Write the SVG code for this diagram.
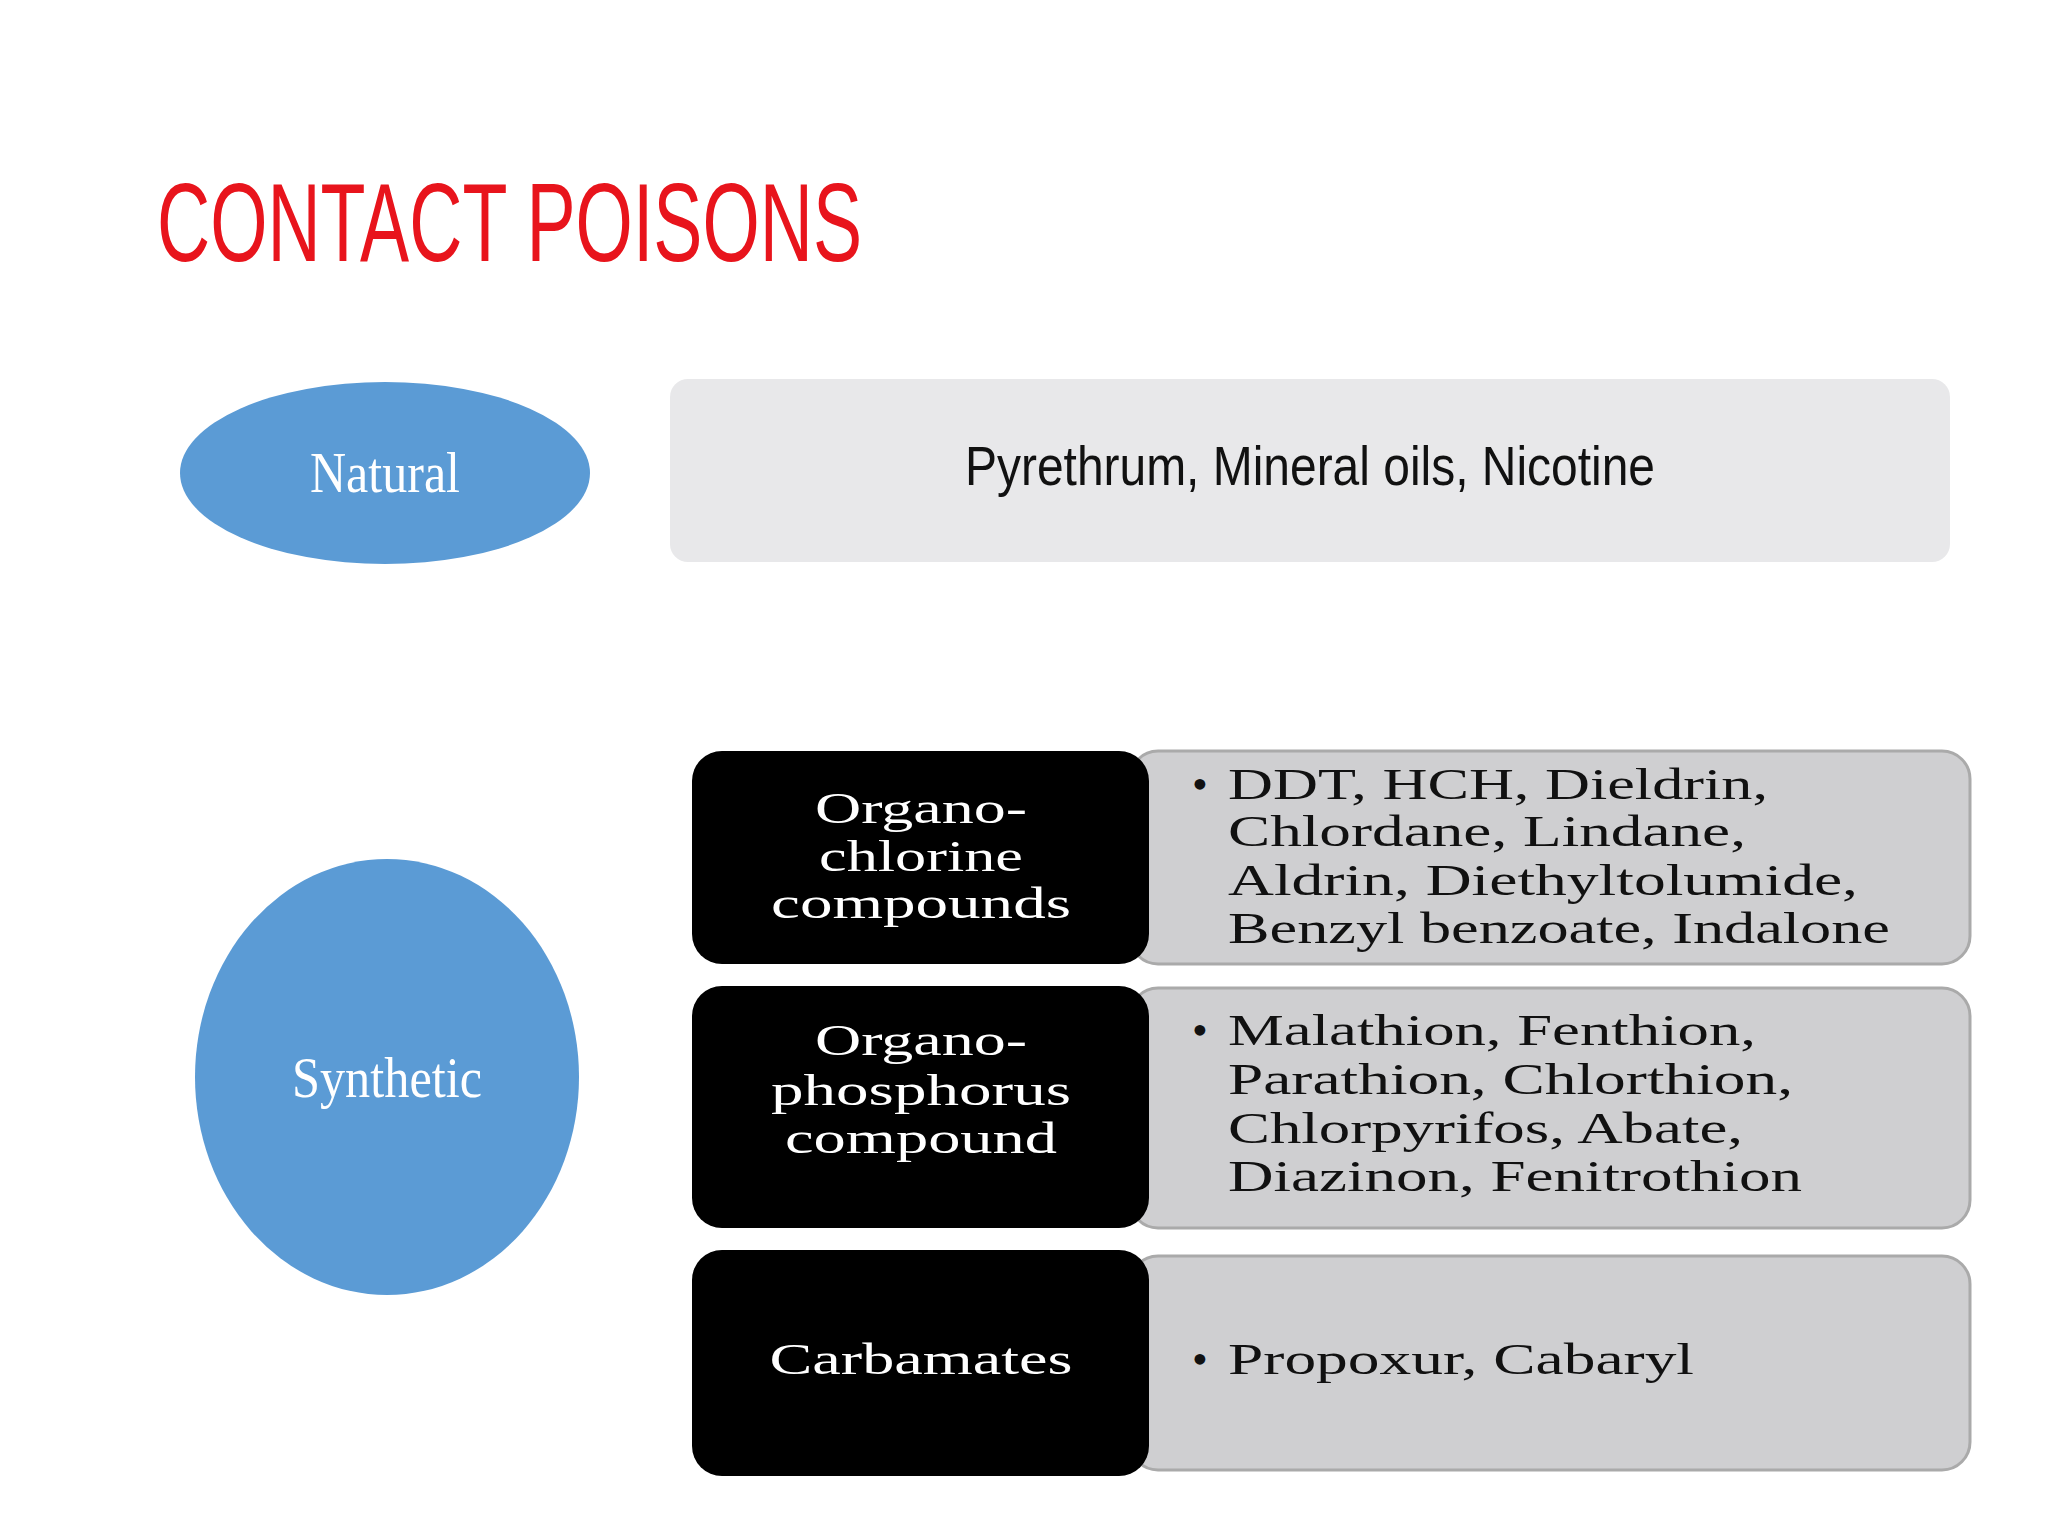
<svg xmlns="http://www.w3.org/2000/svg" width="2048" height="1536" viewBox="0 0 2048 1536">
<style>
.ell{fill:#5b9bd5}
.lbl{font-family:"Liberation Serif",serif;font-size:58px;fill:#fff;text-anchor:middle}
.blk{fill:#000}
.gry{fill:#cfcfd1;stroke:#aaa;stroke-width:3}
.bt{font-family:"Liberation Serif",serif;font-size:45px;fill:#fff;text-anchor:middle}
.gt{font-family:"Liberation Serif",serif;font-size:45px;fill:#111}
</style>
<rect width="2048" height="1536" fill="#fff"/>
<text x="157" y="261" font-family="Liberation Sans,sans-serif" font-size="112" fill="#e8141c" textLength="705" lengthAdjust="spacingAndGlyphs">CONTACT POISONS</text>
<g id="natural"><ellipse class="ell" cx="385" cy="473" rx="205" ry="91"/><text class="lbl" x="385" y="492" textLength="150" lengthAdjust="spacingAndGlyphs">Natural</text></g>
<g id="natural-ex"><rect x="670" y="379" width="1280" height="183" rx="18" fill="#e8e8ea"/><text x="1310" y="485" font-family="Liberation Sans,sans-serif" font-size="56" fill="#111" text-anchor="middle" textLength="690" lengthAdjust="spacingAndGlyphs">Pyrethrum, Mineral oils, Nicotine</text></g>
<g id="synthetic"><ellipse class="ell" cx="387" cy="1077" rx="192" ry="218"/><text class="lbl" x="387" y="1097" textLength="190" lengthAdjust="spacingAndGlyphs">Synthetic</text></g>
<g id="oc"><rect class="gry" x="1130" y="751" width="840" height="213" rx="28"/><rect class="blk" x="692" y="751" width="457" height="213" rx="30"/>
<text class="bt" x="921" y="823" textLength="212" lengthAdjust="spacingAndGlyphs">Organo-</text><text class="bt" x="921" y="871" textLength="204" lengthAdjust="spacingAndGlyphs">chlorine</text><text class="bt" x="921" y="918" textLength="300" lengthAdjust="spacingAndGlyphs">compounds</text>
<text class="gt" x="1192" y="799">•</text><text class="gt" x="1228" y="799" textLength="540" lengthAdjust="spacingAndGlyphs">DDT, HCH, Dieldrin,</text><text class="gt" x="1228" y="846" textLength="518" lengthAdjust="spacingAndGlyphs">Chlordane, Lindane,</text><text class="gt" x="1228" y="895" textLength="630" lengthAdjust="spacingAndGlyphs">Aldrin, Diethyltolumide,</text><text class="gt" x="1228" y="943" textLength="662" lengthAdjust="spacingAndGlyphs">Benzyl benzoate, Indalone</text></g>
<g id="op"><rect class="gry" x="1130" y="988" width="840" height="240" rx="28"/><rect class="blk" x="692" y="986" width="457" height="242" rx="30"/>
<text class="bt" x="921" y="1055" textLength="212" lengthAdjust="spacingAndGlyphs">Organo-</text><text class="bt" x="921" y="1105" textLength="300" lengthAdjust="spacingAndGlyphs">phosphorus</text><text class="bt" x="921" y="1153" textLength="272" lengthAdjust="spacingAndGlyphs">compound</text>
<text class="gt" x="1192" y="1045">•</text><text class="gt" x="1228" y="1045" textLength="528" lengthAdjust="spacingAndGlyphs">Malathion, Fenthion,</text><text class="gt" x="1228" y="1094" textLength="565" lengthAdjust="spacingAndGlyphs">Parathion, Chlorthion,</text><text class="gt" x="1228" y="1143" textLength="515" lengthAdjust="spacingAndGlyphs">Chlorpyrifos, Abate,</text><text class="gt" x="1228" y="1191" textLength="574" lengthAdjust="spacingAndGlyphs">Diazinon, Fenitrothion</text></g>
<g id="carb"><rect class="gry" x="1130" y="1256" width="840" height="214" rx="28"/><rect class="blk" x="692" y="1250" width="457" height="226" rx="30"/>
<text class="bt" x="921" y="1374" textLength="303" lengthAdjust="spacingAndGlyphs">Carbamates</text>
<text class="gt" x="1192" y="1374">•</text><text class="gt" x="1228" y="1374" textLength="466" lengthAdjust="spacingAndGlyphs">Propoxur, Cabaryl</text></g>
<g id="connectors"/>
</svg>
